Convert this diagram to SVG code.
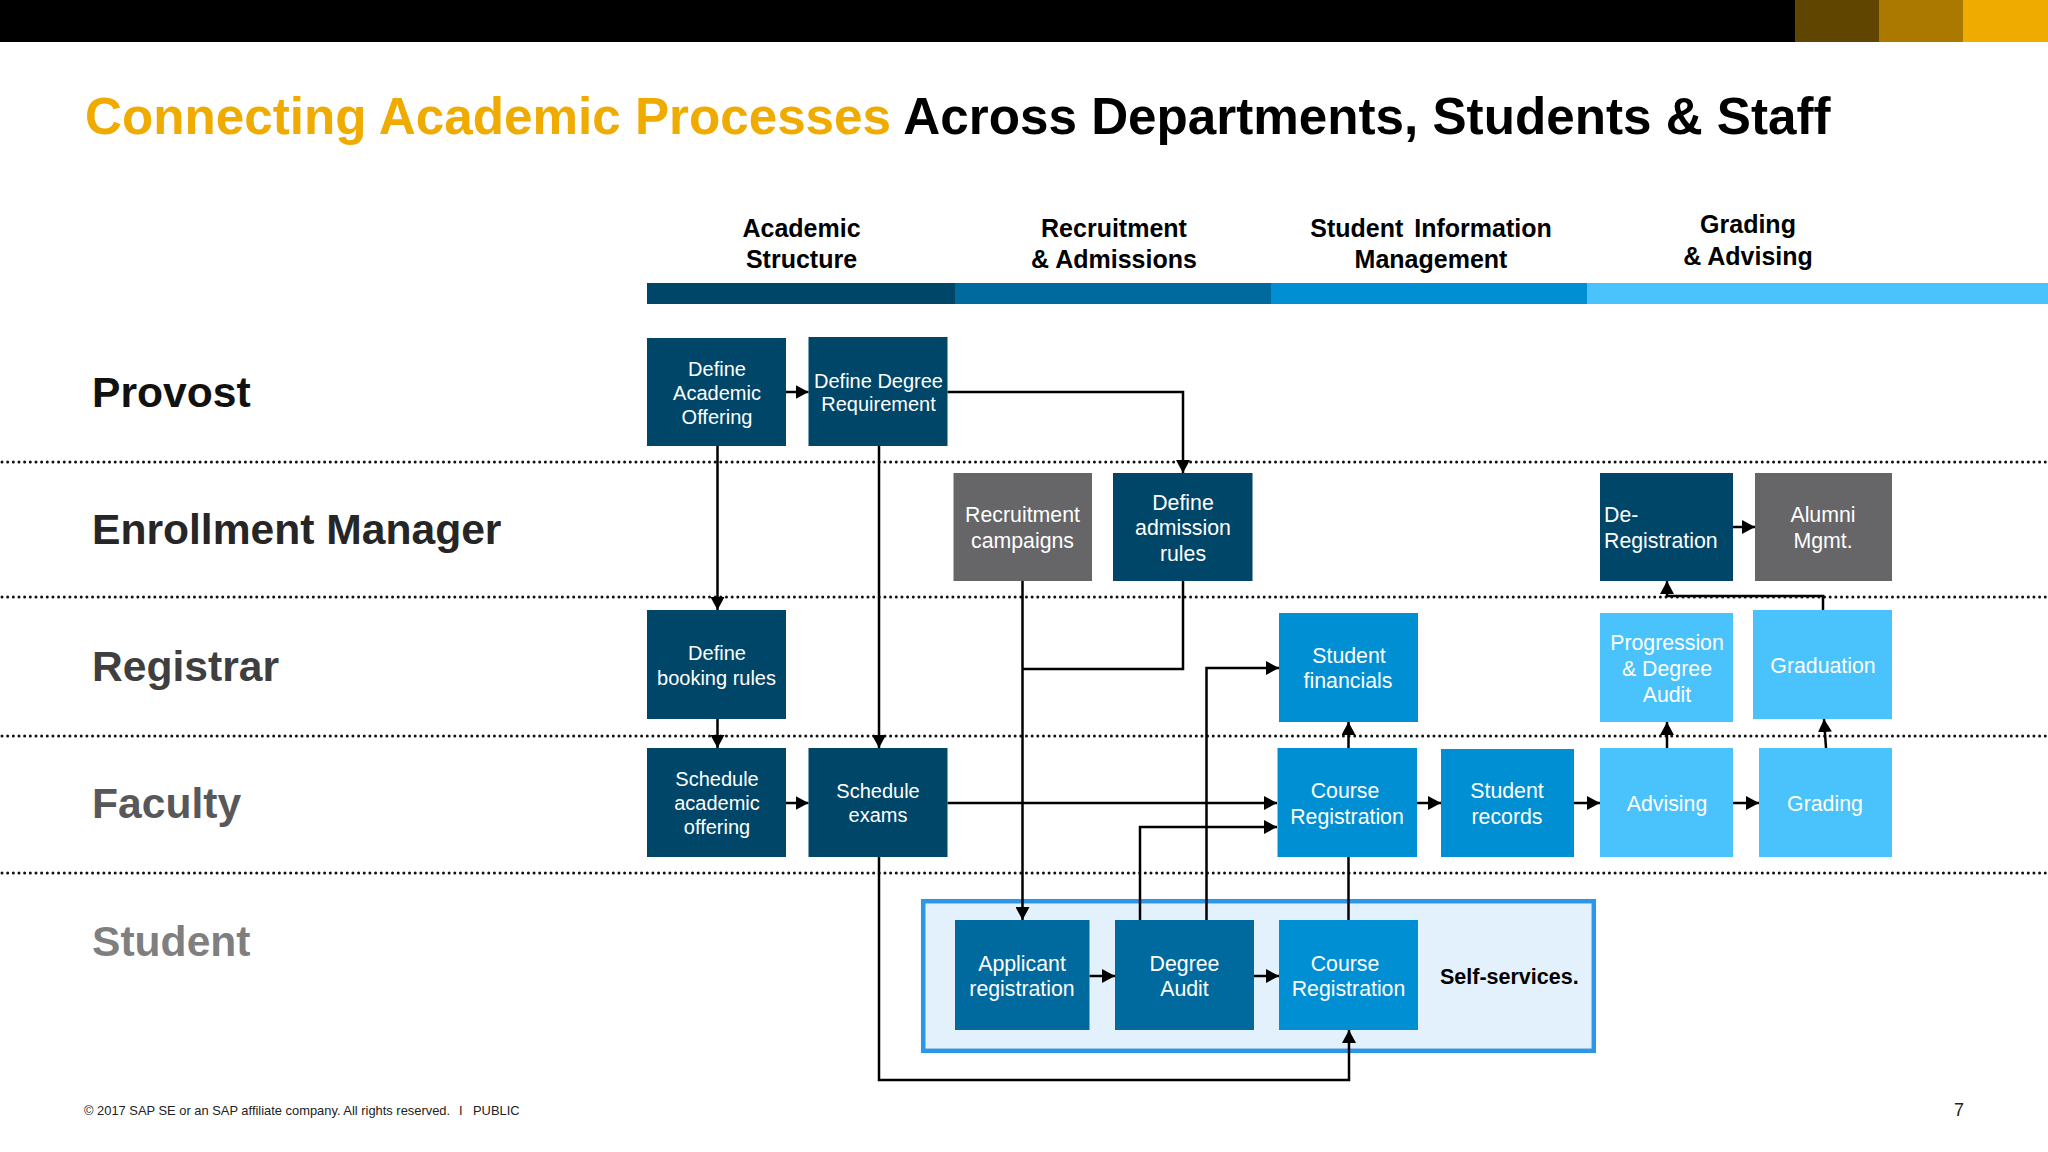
<svg xmlns="http://www.w3.org/2000/svg" width="2048" height="1152" viewBox="0 0 2048 1152">
<style>
text{font-family:"Liberation Sans",Arial,sans-serif}
.n text{fill:#fff;text-anchor:middle;font-size:21.3px}
.n.s text{font-size:20px}
.dk rect{fill:#004668}
.md rect{fill:#006a9e}
.bl rect{fill:#008fd3}
.lt rect{fill:#4ac2fb}
.gr rect{fill:#666568}
.h{font-weight:700;font-size:25px;text-anchor:middle;fill:#000}
.r{font-weight:700;font-size:42.6px}
.sep{stroke:#111;stroke-width:3;stroke-linecap:round;stroke-dasharray:0.01 5.65;fill:none}
#connectors path{fill:none;stroke:#000;stroke-width:2.5}
</style>
<defs>
<marker id="a" markerUnits="userSpaceOnUse" markerWidth="13" markerHeight="14" refX="13" refY="7" orient="auto"><path d="M0 0L13 7L0 14Z" fill="#000"/></marker>
</defs>
<rect width="2048" height="1152" fill="#fff"/>
<g id="topbar">
<rect width="2048" height="42" fill="#000"/>
<rect x="1795" width="84" height="42" fill="#5f4500"/>
<rect x="1879" width="84" height="42" fill="#ab7800"/>
<rect x="1963" width="85" height="42" fill="#f0ab00"/>
</g>
<text x="85" y="134" font-size="51.2" font-weight="700" fill="#000"><tspan fill="#f0ab00">Connecting Academic Processes</tspan> Across Departments, Students &amp; Staff</text>
<g id="phases">
<rect x="647" y="283" width="308" height="21" fill="#004668"/>
<rect x="955" y="283" width="316" height="21" fill="#006a9e"/>
<rect x="1271" y="283" width="316" height="21" fill="#008fd3"/>
<rect x="1587" y="283" width="461" height="21" fill="#4ac2fb"/>
<text class="h" x="801.500" y="237">Academic</text><text class="h" x="801.500" y="268">Structure</text>
<text class="h" x="1114" y="237">Recruitment</text><text class="h" x="1114" y="268">&amp; Admissions</text>
<text class="h" x="1431" y="237" word-spacing="4">Student Information</text><text class="h" x="1431" y="268">Management</text>
<text class="h" x="1748" y="233">Grading</text><text class="h" x="1748" y="265">&amp; Advising</text>
</g>
<g id="separators">
<path class="sep" d="M2 462H2048M2 597H2048M2 736H2048M2 873H2048"/>
</g>
<g id="lanes">
<text class="r" x="92" y="407" fill="#111">Provost</text>
<text class="r" x="92" y="544" fill="#262626">Enrollment Manager</text>
<text class="r" x="92" y="681" fill="#3f3f3f">Registrar</text>
<text class="r" x="92" y="818" fill="#58585a">Faculty</text>
<text class="r" x="92" y="956" fill="#7f7f7f">Student</text>
</g>
<g id="self-services">
<rect x="923.200" y="901.200" width="670.600" height="149.600" fill="#e3f1fc" stroke="#2d96e6" stroke-width="4.500"/>
<text x="1440" y="984" font-size="21.5" font-weight="700" fill="#000">Self-services.</text>
</g>
<g id="connectors">
<path d="M786 392H808.500" marker-end="url(#a)"/>
<path d="M947.500 392H1183V473" marker-end="url(#a)"/>
<path d="M717.500 446V610" marker-end="url(#a)"/>
<path d="M879 446V748" marker-end="url(#a)"/>
<path d="M1022.500 581V920" marker-end="url(#a)"/>
<path d="M1183 581V669H1022.500"/>
<path d="M717.500 719V748" marker-end="url(#a)"/>
<path d="M786 803H808.500" marker-end="url(#a)"/>
<path d="M947.500 803H1277" marker-end="url(#a)"/>
<path d="M1140 920V827H1277" marker-end="url(#a)"/>
<path d="M1206.500 920V668H1279" marker-end="url(#a)"/>
<path d="M1348.500 748V722" marker-end="url(#a)"/>
<path d="M1348.500 920V857"/>
<path d="M879 857V1080H1349V1030" marker-end="url(#a)"/>
<path d="M1089.500 976H1115" marker-end="url(#a)"/>
<path d="M1254 976H1279" marker-end="url(#a)"/>
<path d="M1417 803H1441" marker-end="url(#a)"/>
<path d="M1574 803H1600" marker-end="url(#a)"/>
<path d="M1733 803H1759" marker-end="url(#a)"/>
<path d="M1667 748V722" marker-end="url(#a)"/>
<path d="M1826 748L1824 719" marker-end="url(#a)"/>
<path d="M1823 610V596H1667V581" marker-end="url(#a)"/>
<path d="M1733 527H1755" marker-end="url(#a)"/>
</g>
<g id="define-academic-offering" class="n s dk"><rect x="647" y="338" width="139" height="108"/><text x="717" y="376">Define</text><text x="717" y="400">Academic</text><text x="717" y="424">Offering</text></g>
<g id="define-degree-requirement" class="n s dk"><rect x="808.500" y="337" width="139" height="109"/><text x="878.500" y="388">Define Degree</text><text x="878.500" y="411">Requirement</text></g>
<g id="recruitment-campaigns" class="n gr"><rect x="953.500" y="473" width="138.500" height="108"/><text x="1022.500" y="522">Recruitment</text><text x="1022.500" y="548">campaigns</text></g>
<g id="define-admission-rules" class="n dk"><rect x="1113" y="473" width="139.500" height="108"/><text x="1183" y="510">Define</text><text x="1183" y="535">admission</text><text x="1183" y="561">rules</text></g>
<g id="de-registration" class="n dk"><rect x="1600" y="473" width="133" height="108"/><text x="1604" y="522" style="text-anchor:start">De-</text><text x="1604" y="548" style="text-anchor:start">Registration</text></g>
<g id="alumni-mgmt" class="n gr"><rect x="1755" y="473" width="137" height="108"/><text x="1823" y="522">Alumni</text><text x="1823" y="548">Mgmt.</text></g>
<g id="define-booking-rules" class="n s dk"><rect x="647" y="610" width="139" height="109"/><text x="717" y="660">Define</text><text x="716.500" y="685">booking rules</text></g>
<g id="student-financials" class="n bl"><rect x="1279" y="613" width="139" height="109"/><text x="1349" y="663">Student</text><text x="1348" y="688">financials</text></g>
<g id="progression-degree-audit" class="n lt"><rect x="1600" y="613" width="133" height="109"/><text x="1667" y="650">Progression</text><text x="1667" y="676">&amp; Degree</text><text x="1667" y="702">Audit</text></g>
<g id="graduation" class="n lt"><rect x="1753" y="610" width="139" height="109"/><text x="1823" y="673">Graduation</text></g>
<g id="schedule-academic-offering" class="n s dk"><rect x="647" y="748" width="139" height="109"/><text x="717" y="786">Schedule</text><text x="717" y="810">academic</text><text x="717" y="834">offering</text></g>
<g id="schedule-exams" class="n s dk"><rect x="808.500" y="748" width="139" height="109"/><text x="878" y="798">Schedule</text><text x="878" y="822">exams</text></g>
<g id="course-registration-faculty" class="n bl"><rect x="1277.500" y="748" width="139.500" height="109"/><text x="1345" y="798">Course</text><text x="1347" y="824">Registration</text></g>
<g id="student-records" class="n bl"><rect x="1441" y="749" width="133" height="108"/><text x="1507" y="798">Student</text><text x="1507" y="824">records</text></g>
<g id="advising" class="n lt"><rect x="1600" y="748" width="133" height="109"/><text x="1667" y="811">Advising</text></g>
<g id="grading" class="n lt"><rect x="1759" y="748" width="133" height="109"/><text x="1825" y="811">Grading</text></g>
<g id="applicant-registration" class="n md"><rect x="955" y="920" width="134.500" height="110"/><text x="1022" y="971">Applicant</text><text x="1022" y="996">registration</text></g>
<g id="degree-audit" class="n md"><rect x="1115" y="920" width="139" height="110"/><text x="1184.500" y="971">Degree</text><text x="1184.500" y="996">Audit</text></g>
<g id="course-registration-student" class="n bl"><rect x="1279" y="920" width="139" height="110"/><text x="1345" y="971">Course</text><text x="1348.500" y="996">Registration</text></g>
<g id="footer">
<text x="84" y="1115" font-size="12.900" fill="#222">© 2017 SAP SE or an SAP affiliate company. All rights reserved.<tspan x="459">I</tspan><tspan x="473">PUBLIC</tspan></text>
<text x="1959" y="1116" font-size="18" fill="#222" text-anchor="middle">7</text>
</g>
</svg>
